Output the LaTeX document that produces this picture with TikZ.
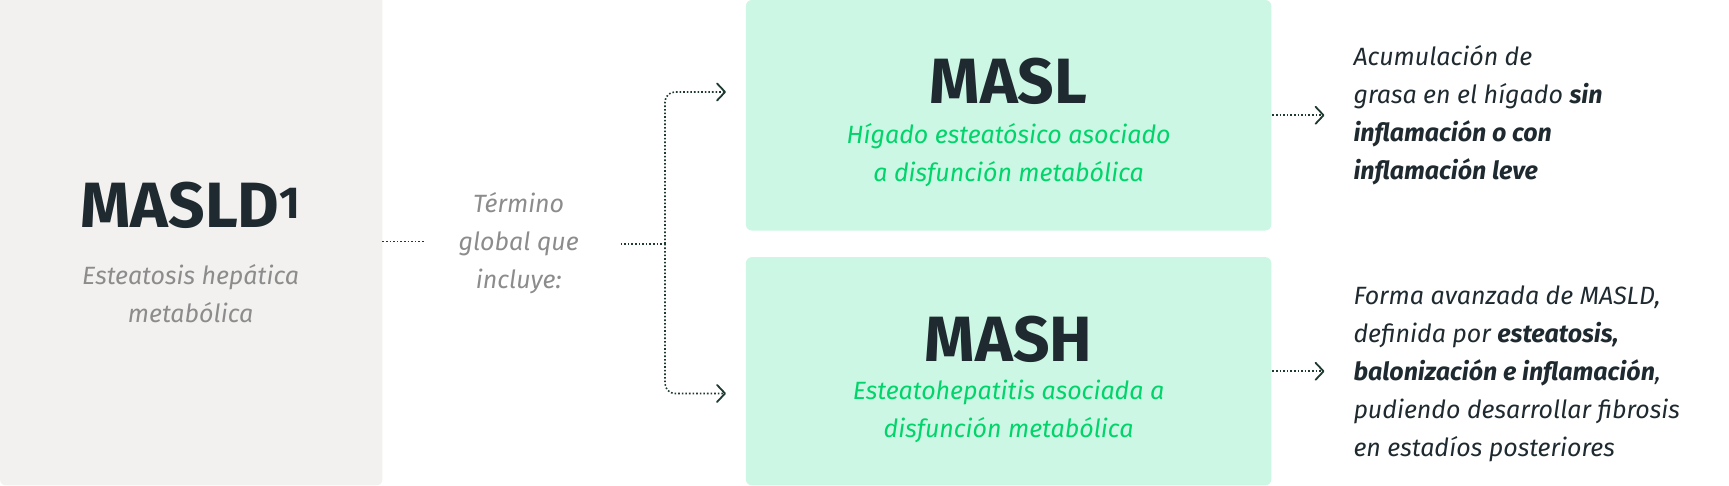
\documentclass[tikz,border=0pt]{standalone}
\usepackage{fontspec}
\setmainfont{Fira Sans}
\usetikzlibrary{arrows.meta}
\definecolor{boxgray}{HTML}{F2F1EF}
\definecolor{boxgreen}{HTML}{CCF7E4}
\definecolor{dark}{HTML}{1F2A30}
\definecolor{gtext}{HTML}{00D46A}
\definecolor{greytext}{HTML}{8C8C8C}
\definecolor{conn}{HTML}{1E3A32}
\begin{document}
\begin{tikzpicture}[x=1.1083pt,y=-1.1083pt,
  box/.style={draw=none,rounded corners=6pt},
  title/.style={font=\fontsize{64}{66}\selectfont\bfseries,text=dark},
  sub/.style={font=\fontsize{25}{38}\selectfont\itshape,align=center},
  side/.style={font=\fontsize{25}{38}\selectfont\itshape,align=left,text=dark,anchor=west},
  dots/.style={draw=conn,line width=1.6pt,dash pattern=on 1.6pt off 2pt},
  arr/.style={dots,-{Straight Barb[length=8pt,width=17pt,line width=1.8pt,round]}}]
\useasboundingbox (0,0) rectangle (1560,438);
\fill[boxgray,box] (0,-10) rectangle (345,438);
\fill[boxgreen,box] (673,0) rectangle (1147,208);
\fill[boxgreen,box] (673,232) rectangle (1147,438);
\node[title] (masld) at (172,185) {MASLD$^{\mathbf{1}}$};
\node[sub,text=greytext] (masldsub) at (172,265) {Esteatosis hepática\\metabólica};
\node[sub,text=greytext] (term) at (468,219) {Término\\global que\\incluye:};
\node[title] (masl) at (910,73) {MASL};
\node[sub,text=gtext] (maslsub) at (910,140) {Hígado esteatósico asociado\\a disfunción metabólica};
\node[title] (mash) at (910,306) {MASH};
\node[sub,text=gtext] (mashsub) at (910,371) {Esteatohepatitis asociada a\\disfunción metabólica};
\node[side] (t1) at (1218,104) {Acumulación de\\grasa en el hígado \textbf{sin}\\\textbf{inflamación o con}\\\textbf{inflamación leve}};
\node[side] (t2) at (1218,337) {Forma avanzada de MASLD,\\definida por \textbf{esteatosis,}\\\textbf{balonización e inflamación},\\pudiendo desarrollar fibrosis\\en estadíos posteriores};
\coordinate (a1) at (345,218);
\coordinate (a2) at (383,218);
\coordinate (b1) at (560,220);
\coordinate (b2) at (600,220);
\coordinate (u) at (655,83);
\coordinate (d) at (655,355);
\coordinate (r1s) at (1148,104);
\coordinate (r1e) at (1195,104);
\coordinate (r2s) at (1148,335);
\coordinate (r2e) at (1195,335);
\draw[dots] (a1) -- (a2);
\draw[dots] (b1) -- (b2);
\draw[arr,rounded corners=10pt] (b2) |- (u);
\draw[arr,rounded corners=10pt] (b2) |- (d);
\draw[arr] (r1s) -- (r1e);
\draw[arr] (r2s) -- (r2e);
\end{tikzpicture}
\end{document}
